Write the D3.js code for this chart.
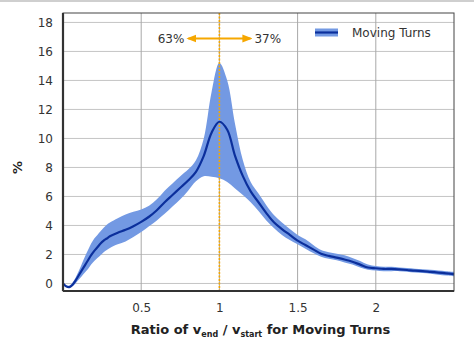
<!DOCTYPE html>
<html>
<head>
<meta charset="utf-8">
<script src="https://cdn.jsdelivr.net/npm/d3@7"></script>
<style>
body { margin: 0; background: #fff; }
text { font-family: "DejaVu Sans", sans-serif; }
</style>
</head>
<body>
<div id="chart"></div>
<script>
// ratio values along the x axis
const ratios = [0.00, 0.02, 0.04, 0.06, 0.08, 0.10, 0.12, 0.14, 0.16, 0.18, 0.20, 0.22, 0.24, 0.26, 0.28, 0.30,
  0.35, 0.40, 0.45, 0.50, 0.55, 0.60, 0.65, 0.70, 0.75, 0.80, 0.85, 0.90, 0.95, 1.00, 1.05, 1.10, 1.15,
  1.20, 1.25, 1.30, 1.35, 1.40, 1.45, 1.50, 1.55, 1.60, 1.65, 1.70, 1.75, 1.80, 1.85, 1.90, 1.95, 2.00,
  2.05, 2.10, 2.15, 2.20, 2.25, 2.30, 2.35, 2.40, 2.45, 2.50];
// mean curve (%)
const meanPct = [0.0, -0.2, -0.25, -0.1, 0.2, 0.55, 0.9, 1.25, 1.6, 1.95, 2.25, 2.5, 2.75, 2.95, 3.1, 3.25,
  3.5, 3.7, 3.95, 4.25, 4.6, 5.05, 5.6, 6.1, 6.6, 7.1, 7.7, 8.8, 10.4, 11.15, 10.6, 8.8, 7.4,
  6.35, 5.6, 4.85, 4.2, 3.75, 3.35, 2.95, 2.65, 2.35, 2.05, 1.9, 1.78, 1.65, 1.5, 1.3, 1.1, 1.05,
  1.0, 1.0, 0.97, 0.93, 0.88, 0.85, 0.8, 0.75, 0.7, 0.65];
// band lower / upper
const lowPct = [0.0, -0.25, -0.3, -0.2, 0.0, 0.25, 0.5, 0.75, 1.0, 1.3, 1.55, 1.75, 1.95, 2.15, 2.3, 2.45,
  2.7, 2.9, 3.2, 3.55, 3.95, 4.35, 4.8, 5.3, 5.8, 6.4, 7.05, 7.4, 7.35, 7.25, 7.0, 6.55, 6.1,
  5.6, 5.0, 4.35, 3.8, 3.35, 3.0, 2.7, 2.4, 2.1, 1.85, 1.7, 1.6, 1.45, 1.3, 1.1, 0.95, 0.9,
  0.85, 0.85, 0.85, 0.8, 0.75, 0.72, 0.67, 0.6, 0.55, 0.5];
const highPct = [0.05, -0.1, -0.15, 0.05, 0.4, 0.85, 1.35, 1.85, 2.3, 2.75, 3.1, 3.35, 3.6, 3.85, 4.05, 4.2,
  4.5, 4.75, 4.95, 5.1, 5.35, 5.8, 6.4, 6.9, 7.4, 7.85, 8.5, 10.0, 13.2, 15.2, 14.0, 11.0, 8.5,
  7.0, 6.2, 5.4, 4.7, 4.2, 3.75, 3.35, 3.05, 2.65, 2.3, 2.15, 2.05, 1.95, 1.75, 1.55, 1.3, 1.2,
  1.15, 1.15, 1.1, 1.06, 1.02, 0.98, 0.95, 0.9, 0.85, 0.8];
const xTicks = [0.5, 1, 1.5, 2];
const xTickLabels = ["0.5", "1", "1.5", "2"];
const yTicks = [0, 2, 4, 6, 8, 10, 12, 14, 16, 18];
const splitLeft = "63%", splitRight = "37%";
const seriesName = "Moving Turns";

const data = ratios.map((r, i) => ({ r: r, m: meanPct[i], lo: lowPct[i], hi: highPct[i] }));

const margin = { top: 13, right: 20, bottom: 60, left: 63 },
  width = 474 - margin.left - margin.right,
  height = 351 - margin.top - margin.bottom;

const root = d3.select("#chart")
  .append("svg")
  .attr("width", 474)
  .attr("height", 351);

// thin grey strip along the top of the image
root.append("rect").attr("width", 474).attr("height", 2).attr("fill", "#cfcfcf");

const svg = root.append("g")
  .attr("transform", `translate(${margin.left},${margin.top})`);

const x = d3.scaleLinear().domain([0, 2.5]).range([0, width]);
const y = d3.scaleLinear().domain([-0.52, 18.65]).range([height, 0]);

// grid
svg.append("g")
  .selectAll("line")
  .data(yTicks)
  .join("line")
  .attr("x1", 0).attr("x2", width)
  .attr("y1", d => y(d)).attr("y2", d => y(d))
  .attr("stroke", "#c4c4c4").attr("stroke-width", 1);
svg.append("g")
  .selectAll("line")
  .data(xTicks)
  .join("line")
  .attr("x1", d => x(d)).attr("x2", d => x(d))
  .attr("y1", 0).attr("y2", height)
  .attr("stroke", "#a8a8a8").attr("stroke-width", 1);

// band + mean
const band = d3.area()
  .x(d => x(d.r))
  .y0(d => y(d.lo))
  .y1(d => y(d.hi))
  .curve(d3.curveCatmullRom);
svg.append("path").datum(data)
  .attr("d", band)
  .attr("fill", "#7399e3");

// orange split line
svg.append("line")
  .attr("x1", x(1)).attr("x2", x(1))
  .attr("y1", 0).attr("y2", height)
  .attr("stroke", "#f6a700").attr("stroke-width", 1.6)
  .attr("stroke-dasharray", "2,1.5");

const line = d3.line()
  .x(d => x(d.r))
  .y(d => y(d.m))
  .curve(d3.curveCatmullRom);
svg.append("path").datum(data)
  .attr("d", line)
  .attr("fill", "none")
  .attr("stroke", "#0b2f9c")
  .attr("stroke-width", 2.2);

// arrows
const defs = svg.append("defs");
defs.append("marker")
  .attr("id", "ah")
  .attr("viewBox", "0 0 10 10")
  .attr("refX", 8).attr("refY", 5)
  .attr("markerWidth", 5).attr("markerHeight", 5)
  .attr("orient", "auto-start-reverse")
  .append("path").attr("d", "M0,1L10,5L0,9Z").attr("fill", "#f6a700");
const ay = 25.5;
svg.append("line")
  .attr("x1", x(1) - 31).attr("x2", x(1) + 31)
  .attr("y1", ay).attr("y2", ay)
  .attr("stroke", "#f6a700").attr("stroke-width", 2)
  .attr("marker-start", "url(#ah)")
  .attr("marker-end", "url(#ah)");
svg.append("text")
  .attr("x", x(1) - 35).attr("y", ay + 4.5)
  .attr("text-anchor", "end")
  .attr("font-size", 12).attr("fill", "#333")
  .text(splitLeft);
svg.append("text")
  .attr("x", x(1) + 35).attr("y", ay + 4.5)
  .attr("font-size", 12).attr("fill", "#333")
  .text(splitRight);

// frame
svg.append("rect")
  .attr("width", width).attr("height", height)
  .attr("fill", "none").attr("stroke", "#444").attr("stroke-width", 1);
svg.append("line").attr("x1", 0).attr("x2", 0).attr("y1", 0).attr("y2", height)
  .attr("stroke", "#333").attr("stroke-width", 2.2);
svg.append("line").attr("x1", 0).attr("x2", width).attr("y1", height).attr("y2", height)
  .attr("stroke", "#333").attr("stroke-width", 2.2);

// axes labels
const yAxis = svg.append("g")
  .call(d3.axisLeft(y).tickValues(yTicks).tickSize(0).tickPadding(10));
yAxis.select(".domain").remove();
yAxis.selectAll("text").attr("font-size", 12).attr("fill", "#333")
  .attr("font-family", "DejaVu Sans, sans-serif");

const xAxis = svg.append("g")
  .attr("transform", `translate(0,${height})`)
  .call(d3.axisBottom(x).tickValues(xTicks)
    .tickFormat((d, i) => xTickLabels[i]).tickSize(0).tickPadding(12));
xAxis.select(".domain").remove();
xAxis.selectAll("text").attr("font-size", 12).attr("fill", "#333")
  .attr("font-family", "DejaVu Sans, sans-serif");

svg.append("text")
  .attr("transform", `translate(${-41},${y(8)}) rotate(-90)`)
  .attr("text-anchor", "middle")
  .attr("font-size", 13).attr("font-weight", "bold").attr("fill", "#222")
  .text("%");

const xl = svg.append("text")
  .attr("x", width / 2 + 2).attr("y", height + 43)
  .attr("text-anchor", "middle")
  .attr("font-size", 13).attr("font-weight", "bold").attr("fill", "#222");
xl.append("tspan").text("Ratio of v");
xl.append("tspan").attr("font-size", 8).attr("dy", 3).text("end");
xl.append("tspan").attr("dy", -3).text(" / v");
xl.append("tspan").attr("font-size", 8).attr("dy", 3).text("start");
xl.append("tspan").attr("dy", -3).text(" for Moving Turns");

// legend
const lg = svg.append("g").attr("transform", `translate(${315 - margin.left},${32.5 - margin.top})`);
lg.append("rect").attr("x", 0).attr("y", -4).attr("width", 23).attr("height", 8).attr("fill", "#7399e3");
lg.append("line").attr("x1", 0).attr("x2", 23).attr("y1", 0).attr("y2", 0)
  .attr("stroke", "#0b2f9c").attr("stroke-width", 2.2);
lg.append("text").attr("x", 37).attr("y", 4.5)
  .attr("font-size", 12).attr("fill", "#333")
  .text(seriesName);
</script>
</body>
</html>
